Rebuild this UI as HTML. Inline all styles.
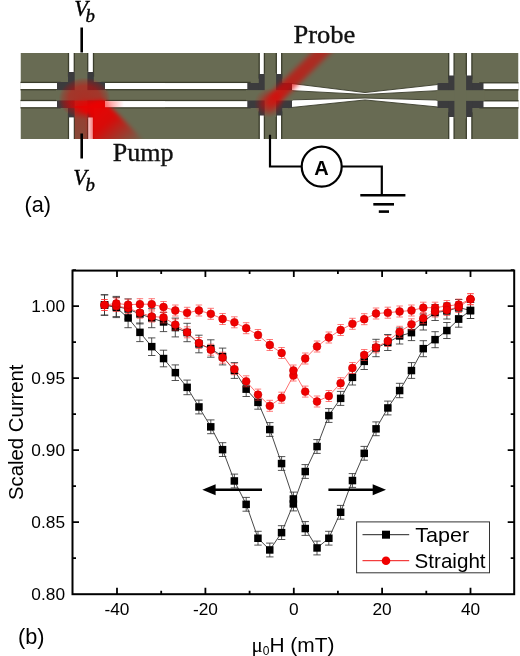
<!DOCTYPE html>
<html><head><meta charset="utf-8"><title>Figure</title>
<style>
html,body{margin:0;padding:0;background:#fff;}
svg{display:block;}
.sans{font-family:"Liberation Sans",Arial,sans-serif;}
.serif{font-family:"Liberation Serif","DejaVu Serif",serif;}
</style></head><body>
<svg width="520" height="656" viewBox="0 0 520 656">
<defs>
<clipPath id="dev"><rect x="20.5" y="53" width="498" height="86"/></clipPath>
<radialGradient id="spotA" cx="0.5" cy="0.5" r="0.5">
<stop offset="0" stop-color="#e00000" stop-opacity="0.55"/>
<stop offset="0.6" stop-color="#e00000" stop-opacity="0.48"/>
<stop offset="0.85" stop-color="#d80000" stop-opacity="0.22"/>
<stop offset="1" stop-color="#d80000" stop-opacity="0"/>
</radialGradient>
<linearGradient id="lowA" x1="0" y1="0" x2="1" y2="0">
<stop offset="0" stop-color="#e00000" stop-opacity="0"/>
<stop offset="0.4" stop-color="#e80000" stop-opacity="0.5"/>
<stop offset="1" stop-color="#e80000" stop-opacity="0.6"/>
</linearGradient>
<linearGradient id="pinkA" x1="0" y1="0" x2="1" y2="0">
<stop offset="0" stop-color="#ff2020" stop-opacity="0.55"/>
<stop offset="1" stop-color="#ff2020" stop-opacity="0"/>
</linearGradient>
<linearGradient id="stubA" x1="0" y1="0" x2="0" y2="1">
<stop offset="0" stop-color="#e00000" stop-opacity="0.6"/>
<stop offset="0.3" stop-color="#d80000" stop-opacity="0.4"/>
<stop offset="1" stop-color="#d00000" stop-opacity="0.3"/>
</linearGradient>
<radialGradient id="spotB" cx="0.5" cy="0.5" r="0.5">
<stop offset="0" stop-color="#e80000" stop-opacity="0.5"/>
<stop offset="0.5" stop-color="#e00000" stop-opacity="0.3"/>
<stop offset="1" stop-color="#d80000" stop-opacity="0"/>
</radialGradient>
<linearGradient id="beamA" gradientUnits="userSpaceOnUse" x1="86" y1="98" x2="134" y2="153">
<stop offset="0" stop-color="#e80000" stop-opacity="0.5"/>
<stop offset="0.15" stop-color="#ee0000" stop-opacity="0.95"/>
<stop offset="0.45" stop-color="#e40000" stop-opacity="0.9"/>
<stop offset="0.98" stop-color="#d80000" stop-opacity="0"/>
</linearGradient>
<linearGradient id="beamB" gradientUnits="userSpaceOnUse" x1="328.6" y1="45.5" x2="262.1" y2="110.8">
<stop offset="0" stop-color="#d80000" stop-opacity="0.55"/>
<stop offset="0.55" stop-color="#dc0000" stop-opacity="0.65"/>
<stop offset="0.8" stop-color="#e80000" stop-opacity="0.8"/>
<stop offset="1" stop-color="#e00000" stop-opacity="0"/>
</linearGradient>
<filter id="bl3" x="-30%" y="-30%" width="160%" height="160%"><feGaussianBlur stdDeviation="2"/></filter>
<filter id="bl2" x="-30%" y="-30%" width="160%" height="160%"><feGaussianBlur stdDeviation="2.6"/></filter>
</defs>
<rect width="520" height="656" fill="#fff"/>

<!-- ===== panel (a): device ===== -->
<g id="device">
<g clip-path="url(#dev)">
<rect x="20.5" y="53" width="498" height="86" fill="#686b53"/>
<!-- trenches -->
<g fill="#fff" stroke="#3a3c2b" stroke-width="1.3">
<rect x="10" y="82.4" width="50" height="7.3"/><rect x="10" y="100.5" width="50" height="7.3"/>
<rect x="102" y="82.4" width="148" height="7.3"/><rect x="102" y="100.5" width="148" height="7.3"/>
<rect x="480" y="82.8" width="50" height="7"/><rect x="480" y="100.8" width="50" height="7"/>
<rect x="68.5" y="40" width="5.8" height="36"/><rect x="87.7" y="40" width="5.8" height="36"/>
<rect x="68.5" y="114" width="5.8" height="36"/><rect x="87.7" y="114" width="5.8" height="36"/>
<rect x="259.2" y="40" width="5.2" height="38"/><rect x="276.3" y="40" width="5.4" height="38"/>
<rect x="259.2" y="112" width="5.2" height="38"/><rect x="276.3" y="112" width="5.4" height="38"/>
<rect x="448.7" y="40" width="5.4" height="39"/><rect x="466.3" y="40" width="5.6" height="39"/>
<rect x="448.7" y="113" width="5.4" height="39"/><rect x="466.3" y="113" width="5.6" height="39"/>
</g><g fill="#fff" stroke="#3a3c2b" stroke-width="0.9">
<polygon points="288,83.3 292,83.55 365,92.55 437.5,84.55 441,84.3 441,90.6 437.5,90.65 365,94.45 292,90.65 288,90.6"/>
<polygon points="288,99.9 292,99.85 365,98.05 437.5,100.05 441,100.1 441,107.2 437.5,106.95 365,99.95 292,107.45 288,107.7"/>
</g>
<!-- dark etched regions -->
<g fill="#3b3b3d">
<rect x="57" y="82" width="48" height="26"/><rect x="68" y="72" width="25.8" height="45.5"/>
<rect x="247.3" y="83" width="44.7" height="25"/><rect x="258.8" y="74" width="23.4" height="41.5"/>
<rect x="437.5" y="83" width="46" height="25"/><rect x="448.3" y="75.5" width="24" height="41.5"/>
</g>
<g fill="#686b53">
<rect x="56" y="90.1" width="50" height="10.4"/><rect x="74.7" y="71" width="12.7" height="48"/>
<rect x="246" y="90.1" width="47" height="10.4"/><rect x="264.7" y="73" width="11.4" height="44"/>
<rect x="436.5" y="90.2" width="48" height="10.7"/><rect x="454.4" y="74.5" width="11.7" height="44"/>
</g>
</g>
<!-- laser beams -->
<g clip-path="url(#dev)">
<ellipse cx="84.5" cy="98.5" rx="26" ry="21" fill="url(#spotA)"/>
<rect x="57" y="100.6" width="48" height="7.4" fill="url(#lowA)"/>
<rect x="74.7" y="106" width="12.7" height="36" fill="url(#stubA)"/>
<polygon points="74,102 104,100 149,146 89,146 89,115 78,110" fill="url(#beamA)" filter="url(#bl3)"/>
<polygon points="324.0,40.8 333.3,50.2 266.7,115.5 257.5,106.1" fill="url(#beamB)" filter="url(#bl2)"/>
<circle cx="269" cy="103" r="15" fill="url(#spotB)"/>
<!-- white gaps wash -->
<g fill="#fff" fill-opacity="0.5">
<rect x="69.2" y="117.5" width="4.4" height="22"/><rect x="88.4" y="117.5" width="4.4" height="22"/>
<rect x="105" y="101.2" width="60" height="5.9" fill-opacity="0.8"/><rect x="105" y="83.1" width="60" height="5.9" fill-opacity="0.9"/>
</g><g><rect x="105" y="101.2" width="19" height="5.9" fill="url(#pinkA)"/>
</g>
</g>
<!-- wires -->
<g fill="none" stroke="#000" stroke-width="2.6">
<path d="M81.7 27.5V52.5"/>
<path d="M81.7 133.5V158.5"/>
</g>
<g fill="none" stroke="#000" stroke-width="2.2">
<path d="M270 134.8V166.5H301"/>
<circle cx="321.7" cy="166.6" r="20" fill="#fff"/>
<path d="M342 166.5H381.8V195.3"/>
<path d="M360.3 195.3H405.4" stroke-width="2.6"/>
<path d="M373.3 204.3H394" stroke-width="2.6"/>
<path d="M378.8 211.6H389" stroke-width="2.6"/>
</g>
<text class="sans" x="321.4" y="174.6" font-size="20" font-weight="bold" text-anchor="middle" fill="#000">A</text>
<!-- labels -->
<g class="serif" font-style="italic" fill="#000" stroke="#000" stroke-width="0.35">
<text x="74.2" y="16.2" font-size="23" textLength="13.6" lengthAdjust="spacingAndGlyphs">V</text>
<text x="85.6" y="21.5" font-size="18" textLength="9.4" lengthAdjust="spacingAndGlyphs">b</text>
<text x="73.2" y="185.3" font-size="23" textLength="13.6" lengthAdjust="spacingAndGlyphs">V</text>
<text x="85.6" y="190.5" font-size="18" textLength="9.4" lengthAdjust="spacingAndGlyphs">b</text>
</g>
<text class="serif" x="293.4" y="42.7" font-size="25" textLength="62" lengthAdjust="spacingAndGlyphs" fill="#111" stroke="#111" stroke-width="0.35">Probe</text>
<text class="serif" x="112.8" y="161.1" font-size="25" textLength="60.8" lengthAdjust="spacingAndGlyphs" fill="#111" stroke="#111" stroke-width="0.35">Pump</text>
<text class="sans" x="24.6" y="211.6" font-size="22" textLength="26.5" lengthAdjust="spacingAndGlyphs" fill="#000">(a)</text>
</g>

<!-- ===== panel (b): chart ===== -->
<g id="chart">
<rect x="72.5" y="270.6" width="441.7" height="323.6" fill="none" stroke="#000" stroke-width="2"/>
<path d="M117.0 594.2v-6.5M117.0 270.6v6.5M161.2 594.2v-3.5M161.2 270.6v3.5M205.4 594.2v-6.5M205.4 270.6v6.5M249.6 594.2v-3.5M249.6 270.6v3.5M293.8 594.2v-6.5M293.8 270.6v6.5M337.9 594.2v-3.5M337.9 270.6v3.5M382.1 594.2v-6.5M382.1 270.6v6.5M426.3 594.2v-3.5M426.3 270.6v3.5M470.5 594.2v-6.5M470.5 270.6v6.5M72.5 558.2h3.5M514.2 558.2h-3.5M72.5 522.2h6.5M514.2 522.2h-6.5M72.5 486.2h3.5M514.2 486.2h-3.5M72.5 450.2h6.5M514.2 450.2h-6.5M72.5 414.2h3.5M514.2 414.2h-3.5M72.5 378.2h6.5M514.2 378.2h-6.5M72.5 342.2h3.5M514.2 342.2h-3.5M72.5 306.2h6.5M514.2 306.2h-6.5M72.5 270.2h3.5M514.2 270.2h-3.5" fill="none" stroke="#000" stroke-width="1.8"/>
<g class="sans" font-size="17.3" fill="#000">
<text x="117.0" y="614.8" text-anchor="middle">-40</text>
<text x="205.4" y="614.8" text-anchor="middle">-20</text>
<text x="293.8" y="614.8" text-anchor="middle">0</text>
<text x="382.1" y="614.8" text-anchor="middle">20</text>
<text x="470.5" y="614.8" text-anchor="middle">40</text>
<text x="65" y="599.9" text-anchor="end">0.80</text>
<text x="65" y="527.9" text-anchor="end">0.85</text>
<text x="65" y="455.9" text-anchor="end">0.90</text>
<text x="65" y="383.9" text-anchor="end">0.95</text>
<text x="65" y="311.9" text-anchor="end">1.00</text>
</g>
<text class="sans" font-size="20.6" fill="#000" transform="translate(22.6 500) rotate(-90)" textLength="135.5" lengthAdjust="spacingAndGlyphs">Scaled Current</text>
<text class="sans" font-size="20.9" fill="#000" x="251.5" y="651.6"><tspan class="serif" font-size="21">μ</tspan><tspan font-size="12" dy="3.2">0</tspan><tspan dy="-3.2">H (mT)</tspan></text>
<text class="sans" x="18" y="644.4" font-size="22" textLength="26.5" lengthAdjust="spacingAndGlyphs" fill="#000">(b)</text>
<!-- data -->
<polyline points="104.5,305.0 116.3,307.5 128.1,318.0 139.9,332.3 151.7,346.7 163.5,358.5 175.3,372.7 187.1,387.4 198.9,407.0 210.8,426.8 222.6,449.6 234.4,481.0 246.2,504.3 258.0,538.2 269.8,550.0 281.6,532.6 293.4,504.0 305.2,471.5 317.0,446.5 328.8,415.5 340.6,398.4 352.4,377.3 364.2,361.3 376.0,348.0 387.8,342.5 399.6,336.0 411.5,332.6 423.3,322.0 435.1,312.5 446.9,311.0 458.7,307.5 470.5,310.5" fill="none" stroke="#333" stroke-width="0.9"/>
<path d="M104.5 294.8V315.2M100.8 294.8h7.4M100.8 315.2h7.4M116.3 297.4V317.6M112.6 297.4h7.4M112.6 317.6h7.4M128.1 308.3V327.7M124.4 308.3h7.4M124.4 327.7h7.4M139.9 323.0V341.6M136.2 323.0h7.4M136.2 341.6h7.4M151.7 337.9V355.5M148.0 337.9h7.4M148.0 355.5h7.4M163.5 350.2V366.8M159.8 350.2h7.4M159.8 366.8h7.4M175.3 364.9V380.5M171.6 364.9h7.4M171.6 380.5h7.4M187.1 380.1V394.7M183.4 380.1h7.4M183.4 394.7h7.4M198.9 400.1V413.9M195.2 400.1h7.4M195.2 413.9h7.4M210.8 419.9V433.7M207.1 419.9h7.4M207.1 433.7h7.4M222.6 442.7V456.5M218.9 442.7h7.4M218.9 456.5h7.4M234.4 474.1V487.9M230.7 474.1h7.4M230.7 487.9h7.4M246.2 497.4V511.2M242.5 497.4h7.4M242.5 511.2h7.4M258.0 531.3V545.1M254.3 531.3h7.4M254.3 545.1h7.4M269.8 543.1V556.9M266.1 543.1h7.4M266.1 556.9h7.4M281.6 525.7V539.5M277.9 525.7h7.4M277.9 539.5h7.4M293.4 497.1V510.9M289.7 497.1h7.4M289.7 510.9h7.4M305.2 464.6V478.4M301.5 464.6h7.4M301.5 478.4h7.4M317.0 439.6V453.4M313.3 439.6h7.4M313.3 453.4h7.4M328.8 408.6V422.4M325.1 408.6h7.4M325.1 422.4h7.4M340.6 391.4V405.4M336.9 391.4h7.4M336.9 405.4h7.4M352.4 369.6V385.0M348.7 369.6h7.4M348.7 385.0h7.4M364.2 353.1V369.5M360.5 353.1h7.4M360.5 369.5h7.4M376.0 339.3V356.7M372.3 339.3h7.4M372.3 356.7h7.4M387.8 334.5V350.5M384.1 334.5h7.4M384.1 350.5h7.4M399.6 328.0V344.0M395.9 328.0h7.4M395.9 344.0h7.4M411.5 324.6V340.6M407.8 324.6h7.4M407.8 340.6h7.4M423.3 314.0V330.0M419.6 314.0h7.4M419.6 330.0h7.4M435.1 304.5V320.5M431.4 304.5h7.4M431.4 320.5h7.4M446.9 303.0V319.0M443.2 303.0h7.4M443.2 319.0h7.4M458.7 299.5V315.5M455.0 299.5h7.4M455.0 315.5h7.4M470.5 302.5V318.5M466.8 302.5h7.4M466.8 318.5h7.4" fill="none" stroke="#333" stroke-width="0.85"/>
<polyline points="104.5,305.0 116.3,306.5 128.1,309.0 139.9,314.0 151.7,318.0 163.5,322.0 175.3,327.5 187.1,332.5 198.9,344.0 210.8,348.5 222.6,356.5 234.4,370.5 246.2,389.2 258.0,402.3 269.8,429.5 281.6,463.5 293.4,499.0 305.2,528.5 317.0,548.0 328.8,538.2 340.6,512.3 352.4,480.5 364.2,453.3 376.0,428.8 387.8,408.0 399.6,390.5 411.5,370.5 423.3,348.7 435.1,339.7 446.9,330.5 458.7,319.2 470.5,310.5" fill="none" stroke="#333" stroke-width="0.9"/>
<path d="M104.5 294.8V315.2M100.8 294.8h7.4M100.8 315.2h7.4M116.3 296.4V316.6M112.6 296.4h7.4M112.6 316.6h7.4M128.1 298.9V319.1M124.4 298.9h7.4M124.4 319.1h7.4M139.9 304.1V323.9M136.2 304.1h7.4M136.2 323.9h7.4M151.7 308.3V327.7M148.0 308.3h7.4M148.0 327.7h7.4M163.5 312.4V331.6M159.8 312.4h7.4M159.8 331.6h7.4M175.3 318.1V336.9M171.6 318.1h7.4M171.6 336.9h7.4M187.1 323.3V341.7M183.4 323.3h7.4M183.4 341.7h7.4M198.9 335.2V352.8M195.2 335.2h7.4M195.2 352.8h7.4M210.8 339.8V357.2M207.1 339.8h7.4M207.1 357.2h7.4M222.6 348.1V364.9M218.9 348.1h7.4M218.9 364.9h7.4M234.4 362.6V378.4M230.7 362.6h7.4M230.7 378.4h7.4M246.2 381.9V396.5M242.5 381.9h7.4M242.5 396.5h7.4M258.0 395.4V409.2M254.3 395.4h7.4M254.3 409.2h7.4M269.8 422.6V436.4M266.1 422.6h7.4M266.1 436.4h7.4M281.6 456.6V470.4M277.9 456.6h7.4M277.9 470.4h7.4M293.4 492.1V505.9M289.7 492.1h7.4M289.7 505.9h7.4M305.2 521.6V535.4M301.5 521.6h7.4M301.5 535.4h7.4M317.0 541.1V554.9M313.3 541.1h7.4M313.3 554.9h7.4M328.8 531.3V545.1M325.1 531.3h7.4M325.1 545.1h7.4M340.6 505.4V519.2M336.9 505.4h7.4M336.9 519.2h7.4M352.4 473.6V487.4M348.7 473.6h7.4M348.7 487.4h7.4M364.2 446.4V460.2M360.5 446.4h7.4M360.5 460.2h7.4M376.0 421.9V435.7M372.3 421.9h7.4M372.3 435.7h7.4M387.8 401.1V414.9M384.1 401.1h7.4M384.1 414.9h7.4M399.6 383.3V397.7M395.9 383.3h7.4M395.9 397.7h7.4M411.5 362.6V378.4M407.8 362.6h7.4M407.8 378.4h7.4M423.3 340.7V356.7M419.6 340.7h7.4M419.6 356.7h7.4M435.1 331.7V347.7M431.4 331.7h7.4M431.4 347.7h7.4M446.9 322.5V338.5M443.2 322.5h7.4M443.2 338.5h7.4M458.7 311.2V327.2M455.0 311.2h7.4M455.0 327.2h7.4M470.5 302.5V318.5M466.8 302.5h7.4M466.8 318.5h7.4" fill="none" stroke="#333" stroke-width="0.85"/>
<rect x="100.8" y="301.2" width="7.5" height="7.5" fill="#000"/>
<rect x="112.6" y="303.8" width="7.5" height="7.5" fill="#000"/>
<rect x="124.4" y="314.2" width="7.5" height="7.5" fill="#000"/>
<rect x="136.2" y="328.6" width="7.5" height="7.5" fill="#000"/>
<rect x="148.0" y="342.9" width="7.5" height="7.5" fill="#000"/>
<rect x="159.8" y="354.8" width="7.5" height="7.5" fill="#000"/>
<rect x="171.6" y="368.9" width="7.5" height="7.5" fill="#000"/>
<rect x="183.4" y="383.6" width="7.5" height="7.5" fill="#000"/>
<rect x="195.2" y="403.2" width="7.5" height="7.5" fill="#000"/>
<rect x="207.0" y="423.1" width="7.5" height="7.5" fill="#000"/>
<rect x="218.8" y="445.9" width="7.5" height="7.5" fill="#000"/>
<rect x="230.6" y="477.2" width="7.5" height="7.5" fill="#000"/>
<rect x="242.4" y="500.6" width="7.5" height="7.5" fill="#000"/>
<rect x="254.2" y="534.5" width="7.5" height="7.5" fill="#000"/>
<rect x="266.0" y="546.2" width="7.5" height="7.5" fill="#000"/>
<rect x="277.8" y="528.9" width="7.5" height="7.5" fill="#000"/>
<rect x="289.6" y="500.2" width="7.5" height="7.5" fill="#000"/>
<rect x="301.5" y="467.8" width="7.5" height="7.5" fill="#000"/>
<rect x="313.3" y="442.8" width="7.5" height="7.5" fill="#000"/>
<rect x="325.1" y="411.8" width="7.5" height="7.5" fill="#000"/>
<rect x="336.9" y="394.6" width="7.5" height="7.5" fill="#000"/>
<rect x="348.7" y="373.6" width="7.5" height="7.5" fill="#000"/>
<rect x="360.5" y="357.6" width="7.5" height="7.5" fill="#000"/>
<rect x="372.3" y="344.2" width="7.5" height="7.5" fill="#000"/>
<rect x="384.1" y="338.8" width="7.5" height="7.5" fill="#000"/>
<rect x="395.9" y="332.2" width="7.5" height="7.5" fill="#000"/>
<rect x="407.7" y="328.9" width="7.5" height="7.5" fill="#000"/>
<rect x="419.5" y="318.2" width="7.5" height="7.5" fill="#000"/>
<rect x="431.3" y="308.8" width="7.5" height="7.5" fill="#000"/>
<rect x="443.1" y="307.2" width="7.5" height="7.5" fill="#000"/>
<rect x="454.9" y="303.8" width="7.5" height="7.5" fill="#000"/>
<rect x="466.7" y="306.8" width="7.5" height="7.5" fill="#000"/>
<rect x="100.8" y="301.2" width="7.5" height="7.5" fill="#000"/>
<rect x="112.6" y="302.8" width="7.5" height="7.5" fill="#000"/>
<rect x="124.4" y="305.2" width="7.5" height="7.5" fill="#000"/>
<rect x="136.2" y="310.2" width="7.5" height="7.5" fill="#000"/>
<rect x="148.0" y="314.2" width="7.5" height="7.5" fill="#000"/>
<rect x="159.8" y="318.2" width="7.5" height="7.5" fill="#000"/>
<rect x="171.6" y="323.8" width="7.5" height="7.5" fill="#000"/>
<rect x="183.4" y="328.8" width="7.5" height="7.5" fill="#000"/>
<rect x="195.2" y="340.2" width="7.5" height="7.5" fill="#000"/>
<rect x="207.0" y="344.8" width="7.5" height="7.5" fill="#000"/>
<rect x="218.8" y="352.8" width="7.5" height="7.5" fill="#000"/>
<rect x="230.6" y="366.8" width="7.5" height="7.5" fill="#000"/>
<rect x="242.4" y="385.4" width="7.5" height="7.5" fill="#000"/>
<rect x="254.2" y="398.6" width="7.5" height="7.5" fill="#000"/>
<rect x="266.0" y="425.8" width="7.5" height="7.5" fill="#000"/>
<rect x="277.8" y="459.8" width="7.5" height="7.5" fill="#000"/>
<rect x="289.6" y="495.2" width="7.5" height="7.5" fill="#000"/>
<rect x="301.5" y="524.8" width="7.5" height="7.5" fill="#000"/>
<rect x="313.3" y="544.2" width="7.5" height="7.5" fill="#000"/>
<rect x="325.1" y="534.5" width="7.5" height="7.5" fill="#000"/>
<rect x="336.9" y="508.5" width="7.5" height="7.5" fill="#000"/>
<rect x="348.7" y="476.8" width="7.5" height="7.5" fill="#000"/>
<rect x="360.5" y="449.6" width="7.5" height="7.5" fill="#000"/>
<rect x="372.3" y="425.1" width="7.5" height="7.5" fill="#000"/>
<rect x="384.1" y="404.2" width="7.5" height="7.5" fill="#000"/>
<rect x="395.9" y="386.8" width="7.5" height="7.5" fill="#000"/>
<rect x="407.7" y="366.8" width="7.5" height="7.5" fill="#000"/>
<rect x="419.5" y="344.9" width="7.5" height="7.5" fill="#000"/>
<rect x="431.3" y="335.9" width="7.5" height="7.5" fill="#000"/>
<rect x="443.1" y="326.8" width="7.5" height="7.5" fill="#000"/>
<rect x="454.9" y="315.4" width="7.5" height="7.5" fill="#000"/>
<rect x="466.7" y="306.8" width="7.5" height="7.5" fill="#000"/>
<polyline points="104.5,305.0 116.3,306.0 128.1,308.0 139.9,312.7 151.7,316.5 163.5,317.4 175.3,324.6 187.1,332.3 198.9,343.0 210.8,349.7 222.6,357.7 234.4,369.2 246.2,381.3 258.0,394.6 269.8,405.8 281.6,397.7 293.4,375.5 305.2,358.5 317.0,346.5 328.8,337.5 340.6,330.0 352.4,323.8 364.2,319.2 376.0,313.5 387.8,312.7 399.6,311.5 411.5,310.5 423.3,307.7 435.1,307.7 446.9,306.0 458.7,304.6 470.5,299.2" fill="none" stroke="#f33" stroke-width="0.7"/>
<path d="M104.5 299.5V310.5M101.2 299.5h6.5M101.2 310.5h6.5M116.3 300.5V311.5M113.1 300.5h6.5M113.1 311.5h6.5M128.1 302.5V313.5M124.9 302.5h6.5M124.9 313.5h6.5M139.9 307.2V318.2M136.7 307.2h6.5M136.7 318.2h6.5M151.7 311.0V322.0M148.5 311.0h6.5M148.5 322.0h6.5M163.5 311.9V322.9M160.3 311.9h6.5M160.3 322.9h6.5M175.3 319.1V330.1M172.1 319.1h6.5M172.1 330.1h6.5M187.1 326.8V337.8M183.9 326.8h6.5M183.9 337.8h6.5M198.9 337.5V348.5M195.7 337.5h6.5M195.7 348.5h6.5M210.8 344.2V355.2M207.5 344.2h6.5M207.5 355.2h6.5M222.6 352.2V363.2M219.3 352.2h6.5M219.3 363.2h6.5M234.4 363.7V374.7M231.1 363.7h6.5M231.1 374.7h6.5M246.2 375.8V386.8M242.9 375.8h6.5M242.9 386.8h6.5M258.0 389.1V400.1M254.7 389.1h6.5M254.7 400.1h6.5M269.8 400.3V411.3M266.5 400.3h6.5M266.5 411.3h6.5M281.6 392.2V403.2M278.3 392.2h6.5M278.3 403.2h6.5M293.4 370.0V381.0M290.1 370.0h6.5M290.1 381.0h6.5M305.2 353.0V364.0M302.0 353.0h6.5M302.0 364.0h6.5M317.0 341.0V352.0M313.8 341.0h6.5M313.8 352.0h6.5M328.8 332.0V343.0M325.6 332.0h6.5M325.6 343.0h6.5M340.6 324.5V335.5M337.4 324.5h6.5M337.4 335.5h6.5M352.4 318.3V329.3M349.2 318.3h6.5M349.2 329.3h6.5M364.2 313.7V324.7M361.0 313.7h6.5M361.0 324.7h6.5M376.0 308.0V319.0M372.8 308.0h6.5M372.8 319.0h6.5M387.8 307.2V318.2M384.6 307.2h6.5M384.6 318.2h6.5M399.6 306.0V317.0M396.4 306.0h6.5M396.4 317.0h6.5M411.5 305.0V316.0M408.2 305.0h6.5M408.2 316.0h6.5M423.3 302.2V313.2M420.0 302.2h6.5M420.0 313.2h6.5M435.1 302.2V313.2M431.8 302.2h6.5M431.8 313.2h6.5M446.9 300.5V311.5M443.6 300.5h6.5M443.6 311.5h6.5M458.7 299.1V310.1M455.4 299.1h6.5M455.4 310.1h6.5M470.5 293.7V304.7M467.2 293.7h6.5M467.2 304.7h6.5" fill="none" stroke="#f33" stroke-width="0.65"/>
<polyline points="104.5,305.0 116.3,303.5 128.1,304.7 139.9,304.2 151.7,304.2 163.5,307.0 175.3,310.5 187.1,312.8 198.9,310.5 210.8,313.8 222.6,319.0 234.4,322.3 246.2,328.2 258.0,335.0 269.8,345.0 281.6,353.0 293.4,370.5 305.2,391.6 317.0,401.5 328.8,396.0 340.6,383.2 352.4,368.0 364.2,355.0 376.0,347.3 387.8,341.0 399.6,331.8 411.5,324.3 423.3,318.2 435.1,311.5 446.9,310.0 458.7,307.0 470.5,299.2" fill="none" stroke="#f33" stroke-width="0.7"/>
<path d="M104.5 299.5V310.5M101.2 299.5h6.5M101.2 310.5h6.5M116.3 298.0V309.0M113.1 298.0h6.5M113.1 309.0h6.5M128.1 299.2V310.2M124.9 299.2h6.5M124.9 310.2h6.5M139.9 298.7V309.7M136.7 298.7h6.5M136.7 309.7h6.5M151.7 298.7V309.7M148.5 298.7h6.5M148.5 309.7h6.5M163.5 301.5V312.5M160.3 301.5h6.5M160.3 312.5h6.5M175.3 305.0V316.0M172.1 305.0h6.5M172.1 316.0h6.5M187.1 307.3V318.3M183.9 307.3h6.5M183.9 318.3h6.5M198.9 305.0V316.0M195.7 305.0h6.5M195.7 316.0h6.5M210.8 308.3V319.3M207.5 308.3h6.5M207.5 319.3h6.5M222.6 313.5V324.5M219.3 313.5h6.5M219.3 324.5h6.5M234.4 316.8V327.8M231.1 316.8h6.5M231.1 327.8h6.5M246.2 322.7V333.7M242.9 322.7h6.5M242.9 333.7h6.5M258.0 329.5V340.5M254.7 329.5h6.5M254.7 340.5h6.5M269.8 339.5V350.5M266.5 339.5h6.5M266.5 350.5h6.5M281.6 347.5V358.5M278.3 347.5h6.5M278.3 358.5h6.5M293.4 365.0V376.0M290.1 365.0h6.5M290.1 376.0h6.5M305.2 386.1V397.1M302.0 386.1h6.5M302.0 397.1h6.5M317.0 396.0V407.0M313.8 396.0h6.5M313.8 407.0h6.5M328.8 390.5V401.5M325.6 390.5h6.5M325.6 401.5h6.5M340.6 377.7V388.7M337.4 377.7h6.5M337.4 388.7h6.5M352.4 362.5V373.5M349.2 362.5h6.5M349.2 373.5h6.5M364.2 349.5V360.5M361.0 349.5h6.5M361.0 360.5h6.5M376.0 341.8V352.8M372.8 341.8h6.5M372.8 352.8h6.5M387.8 335.5V346.5M384.6 335.5h6.5M384.6 346.5h6.5M399.6 326.3V337.3M396.4 326.3h6.5M396.4 337.3h6.5M411.5 318.8V329.8M408.2 318.8h6.5M408.2 329.8h6.5M423.3 312.7V323.7M420.0 312.7h6.5M420.0 323.7h6.5M435.1 306.0V317.0M431.8 306.0h6.5M431.8 317.0h6.5M446.9 304.5V315.5M443.6 304.5h6.5M443.6 315.5h6.5M458.7 301.5V312.5M455.4 301.5h6.5M455.4 312.5h6.5M470.5 293.7V304.7M467.2 293.7h6.5M467.2 304.7h6.5" fill="none" stroke="#f33" stroke-width="0.65"/>
<circle cx="104.5" cy="305.0" r="3.9" fill="#f00000" stroke="#cc0000" stroke-width="0.6"/>
<circle cx="116.3" cy="306.0" r="3.9" fill="#f00000" stroke="#cc0000" stroke-width="0.6"/>
<circle cx="128.1" cy="308.0" r="3.9" fill="#f00000" stroke="#cc0000" stroke-width="0.6"/>
<circle cx="139.9" cy="312.7" r="3.9" fill="#f00000" stroke="#cc0000" stroke-width="0.6"/>
<circle cx="151.7" cy="316.5" r="3.9" fill="#f00000" stroke="#cc0000" stroke-width="0.6"/>
<circle cx="163.5" cy="317.4" r="3.9" fill="#f00000" stroke="#cc0000" stroke-width="0.6"/>
<circle cx="175.3" cy="324.6" r="3.9" fill="#f00000" stroke="#cc0000" stroke-width="0.6"/>
<circle cx="187.1" cy="332.3" r="3.9" fill="#f00000" stroke="#cc0000" stroke-width="0.6"/>
<circle cx="198.9" cy="343.0" r="3.9" fill="#f00000" stroke="#cc0000" stroke-width="0.6"/>
<circle cx="210.8" cy="349.7" r="3.9" fill="#f00000" stroke="#cc0000" stroke-width="0.6"/>
<circle cx="222.6" cy="357.7" r="3.9" fill="#f00000" stroke="#cc0000" stroke-width="0.6"/>
<circle cx="234.4" cy="369.2" r="3.9" fill="#f00000" stroke="#cc0000" stroke-width="0.6"/>
<circle cx="246.2" cy="381.3" r="3.9" fill="#f00000" stroke="#cc0000" stroke-width="0.6"/>
<circle cx="258.0" cy="394.6" r="3.9" fill="#f00000" stroke="#cc0000" stroke-width="0.6"/>
<circle cx="269.8" cy="405.8" r="3.9" fill="#f00000" stroke="#cc0000" stroke-width="0.6"/>
<circle cx="281.6" cy="397.7" r="3.9" fill="#f00000" stroke="#cc0000" stroke-width="0.6"/>
<circle cx="293.4" cy="375.5" r="3.9" fill="#f00000" stroke="#cc0000" stroke-width="0.6"/>
<circle cx="305.2" cy="358.5" r="3.9" fill="#f00000" stroke="#cc0000" stroke-width="0.6"/>
<circle cx="317.0" cy="346.5" r="3.9" fill="#f00000" stroke="#cc0000" stroke-width="0.6"/>
<circle cx="328.8" cy="337.5" r="3.9" fill="#f00000" stroke="#cc0000" stroke-width="0.6"/>
<circle cx="340.6" cy="330.0" r="3.9" fill="#f00000" stroke="#cc0000" stroke-width="0.6"/>
<circle cx="352.4" cy="323.8" r="3.9" fill="#f00000" stroke="#cc0000" stroke-width="0.6"/>
<circle cx="364.2" cy="319.2" r="3.9" fill="#f00000" stroke="#cc0000" stroke-width="0.6"/>
<circle cx="376.0" cy="313.5" r="3.9" fill="#f00000" stroke="#cc0000" stroke-width="0.6"/>
<circle cx="387.8" cy="312.7" r="3.9" fill="#f00000" stroke="#cc0000" stroke-width="0.6"/>
<circle cx="399.6" cy="311.5" r="3.9" fill="#f00000" stroke="#cc0000" stroke-width="0.6"/>
<circle cx="411.5" cy="310.5" r="3.9" fill="#f00000" stroke="#cc0000" stroke-width="0.6"/>
<circle cx="423.3" cy="307.7" r="3.9" fill="#f00000" stroke="#cc0000" stroke-width="0.6"/>
<circle cx="435.1" cy="307.7" r="3.9" fill="#f00000" stroke="#cc0000" stroke-width="0.6"/>
<circle cx="446.9" cy="306.0" r="3.9" fill="#f00000" stroke="#cc0000" stroke-width="0.6"/>
<circle cx="458.7" cy="304.6" r="3.9" fill="#f00000" stroke="#cc0000" stroke-width="0.6"/>
<circle cx="470.5" cy="299.2" r="3.9" fill="#f00000" stroke="#cc0000" stroke-width="0.6"/>
<circle cx="104.5" cy="305.0" r="3.9" fill="#f00000" stroke="#cc0000" stroke-width="0.6"/>
<circle cx="116.3" cy="303.5" r="3.9" fill="#f00000" stroke="#cc0000" stroke-width="0.6"/>
<circle cx="128.1" cy="304.7" r="3.9" fill="#f00000" stroke="#cc0000" stroke-width="0.6"/>
<circle cx="139.9" cy="304.2" r="3.9" fill="#f00000" stroke="#cc0000" stroke-width="0.6"/>
<circle cx="151.7" cy="304.2" r="3.9" fill="#f00000" stroke="#cc0000" stroke-width="0.6"/>
<circle cx="163.5" cy="307.0" r="3.9" fill="#f00000" stroke="#cc0000" stroke-width="0.6"/>
<circle cx="175.3" cy="310.5" r="3.9" fill="#f00000" stroke="#cc0000" stroke-width="0.6"/>
<circle cx="187.1" cy="312.8" r="3.9" fill="#f00000" stroke="#cc0000" stroke-width="0.6"/>
<circle cx="198.9" cy="310.5" r="3.9" fill="#f00000" stroke="#cc0000" stroke-width="0.6"/>
<circle cx="210.8" cy="313.8" r="3.9" fill="#f00000" stroke="#cc0000" stroke-width="0.6"/>
<circle cx="222.6" cy="319.0" r="3.9" fill="#f00000" stroke="#cc0000" stroke-width="0.6"/>
<circle cx="234.4" cy="322.3" r="3.9" fill="#f00000" stroke="#cc0000" stroke-width="0.6"/>
<circle cx="246.2" cy="328.2" r="3.9" fill="#f00000" stroke="#cc0000" stroke-width="0.6"/>
<circle cx="258.0" cy="335.0" r="3.9" fill="#f00000" stroke="#cc0000" stroke-width="0.6"/>
<circle cx="269.8" cy="345.0" r="3.9" fill="#f00000" stroke="#cc0000" stroke-width="0.6"/>
<circle cx="281.6" cy="353.0" r="3.9" fill="#f00000" stroke="#cc0000" stroke-width="0.6"/>
<circle cx="293.4" cy="370.5" r="3.9" fill="#f00000" stroke="#cc0000" stroke-width="0.6"/>
<circle cx="305.2" cy="391.6" r="3.9" fill="#f00000" stroke="#cc0000" stroke-width="0.6"/>
<circle cx="317.0" cy="401.5" r="3.9" fill="#f00000" stroke="#cc0000" stroke-width="0.6"/>
<circle cx="328.8" cy="396.0" r="3.9" fill="#f00000" stroke="#cc0000" stroke-width="0.6"/>
<circle cx="340.6" cy="383.2" r="3.9" fill="#f00000" stroke="#cc0000" stroke-width="0.6"/>
<circle cx="352.4" cy="368.0" r="3.9" fill="#f00000" stroke="#cc0000" stroke-width="0.6"/>
<circle cx="364.2" cy="355.0" r="3.9" fill="#f00000" stroke="#cc0000" stroke-width="0.6"/>
<circle cx="376.0" cy="347.3" r="3.9" fill="#f00000" stroke="#cc0000" stroke-width="0.6"/>
<circle cx="387.8" cy="341.0" r="3.9" fill="#f00000" stroke="#cc0000" stroke-width="0.6"/>
<circle cx="399.6" cy="331.8" r="3.9" fill="#f00000" stroke="#cc0000" stroke-width="0.6"/>
<circle cx="411.5" cy="324.3" r="3.9" fill="#f00000" stroke="#cc0000" stroke-width="0.6"/>
<circle cx="423.3" cy="318.2" r="3.9" fill="#f00000" stroke="#cc0000" stroke-width="0.6"/>
<circle cx="435.1" cy="311.5" r="3.9" fill="#f00000" stroke="#cc0000" stroke-width="0.6"/>
<circle cx="446.9" cy="310.0" r="3.9" fill="#f00000" stroke="#cc0000" stroke-width="0.6"/>
<circle cx="458.7" cy="307.0" r="3.9" fill="#f00000" stroke="#cc0000" stroke-width="0.6"/>
<circle cx="470.5" cy="299.2" r="3.9" fill="#f00000" stroke="#cc0000" stroke-width="0.6"/>
<!-- arrows -->
<g stroke="#000" stroke-width="2.6" fill="#000">
<path d="M212 489.8H262" fill="none"/>
<polygon points="202.3,489.8 215.6,484.3 215.6,495.3" stroke="none"/>
<path d="M328.4 489.8H376" fill="none"/>
<polygon points="386,489.8 372.7,484.3 372.7,495.3" stroke="none"/>
</g>
<!-- legend -->
<rect x="356.6" y="521.9" width="132.9" height="50.9" fill="#fff" stroke="#333" stroke-width="1"/>
<path d="M362.5 534.7H409.2" stroke="#222" stroke-width="1"/>
<rect x="382" y="530.7" width="8" height="8" fill="#000"/>
<path d="M362.5 560.7H409.2" stroke="#f01010" stroke-width="1"/>
<circle cx="386" cy="560.7" r="4.3" fill="#f00000"/>
<text class="sans" x="415.2" y="541.6" font-size="20.9" textLength="54" lengthAdjust="spacingAndGlyphs" fill="#000">Taper</text>
<text class="sans" x="414.6" y="567.5" font-size="20.9" textLength="71" lengthAdjust="spacingAndGlyphs" fill="#000">Straight</text>
</g>
</svg>
</body></html>
